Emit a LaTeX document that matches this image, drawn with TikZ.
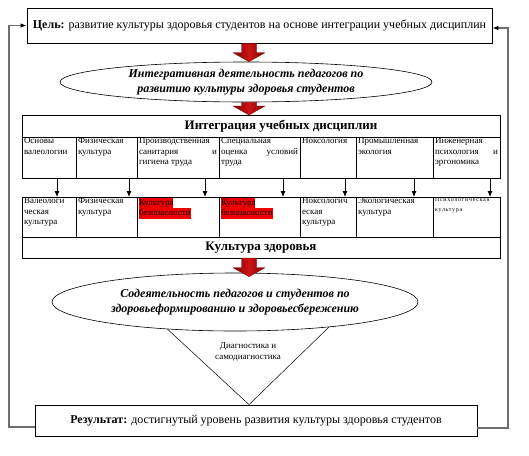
\documentclass[tikz,border=0pt]{standalone}
\usepackage{fontspec}
\setmainfont{Liberation Serif}
\usetikzlibrary{arrows.meta,shapes.geometric,calc}

\definecolor{arrowred}{RGB}{205,20,20}
\definecolor{arrowdark}{RGB}{125,0,0}
\definecolor{marker}{RGB}{240,0,0}
\definecolor{loopgray}{RGB}{110,110,110}

\newcommand{\hilite}[1]{{\setlength{\fboxsep}{0pt}\colorbox{marker}{\strut #1}}}
\newcommand{\cellbox}[3]{\parbox[c][#1][t]{#2}{\vspace*{1pt}#3}}
\newcommand{\redarrow}[2]{%
  \path[redblock] let \p1=(#1), \p2=(#2) in
    (\x1-7.5pt,\y1) -- (\x1+7.5pt,\y1) -- (\x1+7.5pt,\y2+9pt) -- (\x1+16pt,\y2+9pt)
    -- (\x1,\y2) -- (\x1-16pt,\y2+9pt) -- (\x1-7.5pt,\y2+9pt) -- cycle;}

\tikzset{
  goalbox/.style={draw, line width=0.8pt, inner sep=0pt, font=\fontsize{12}{14}\selectfont},
  oval/.style={draw, ellipse, fill=white, line width=0.6pt, inner sep=0pt},
  ovaltext/.style={align=center, inner sep=0pt, font=\fontsize{12}{15}\selectfont\bfseries\itshape},
  cell/.style={draw, line width=0.8pt, anchor=north west, outer sep=0pt, inner xsep=2pt, inner ysep=0pt, font=\fontsize{9}{10.3}\selectfont},
  rowband/.style={draw, line width=0.8pt, anchor=north west, outer sep=0pt, inner sep=0pt, minimum width=478pt, font=\fontsize{13}{15}\selectfont\bfseries},
  feedback/.style={draw=loopgray, line width=1.2pt, -{Latex[black,length=6pt,width=4.5pt]}},
  linkdown/.style={line width=0.8pt, -{Latex[length=6pt,width=5pt]}},
  redblock/.style={left color=arrowdark, right color=arrowdark, middle color=arrowred, draw=arrowdark, line width=0.3pt},
}

\begin{document}
\begin{tikzpicture}[x=1pt,y=-1pt]
\useasboundingbox (0,0) rectangle (529,455);
\coordinate (spine) at (249,0);
\coordinate (leftrail) at (9,25.5);
\coordinate (rightrail) at (508,28);

\node[goalbox, minimum width=465pt, minimum height=35pt] (goal) at (259.5,25.5) {\textbf{Цель:} развитие культуры здоровья студентов на основе интеграции учебных дисциплин};

\node[oval, minimum width=372pt, minimum height=40pt] (intent) at (246,82) {};
\node[ovaltext] (intenttext) at (intent.center) {Интегративная деятельность педагогов по\\развитию культуры здоровья студентов};

\node[rowband, minimum height=22pt] (integ) at (22,115) {\hspace*{40pt}Интеграция учебных дисциплин};
\node[cell] (a1) at (integ.south west) {\cellbox{41pt}{50pt}{Основы\\валеологии}};
\node[cell] (a2) at (a1.north east) {\cellbox{41pt}{57pt}{Физическая\\культура}};
\node[cell] (a3) at (a2.north east) {\cellbox{41pt}{78pt}{Производственная\\санитария\hfill и\\гигиена труда}};
\node[cell] (a4) at (a3.north east) {\cellbox{41pt}{77pt}{Специальная\\оценка\hfill условий\\труда}};
\node[cell] (a5) at (a4.north east) {\cellbox{41pt}{52pt}{Ноксология}};
\node[cell] (a6) at (a5.north east) {\cellbox{41pt}{73pt}{Промышленная\\экология}};
\node[cell] (a7) at (a6.north east) {\cellbox{41pt}{63pt}{Инженерная\\психология\hfill и\\эргономика}};

\node[cell] (b1) at (22,197) {\cellbox{40pt}{50pt}{Валеологи\\ческая\\культура}};
\node[cell] (b2) at (b1.north east) {\cellbox{40pt}{57pt}{Физическая\\культура}};
\node[cell] (b3) at (b2.north east) {\cellbox{40pt}{78pt}{\hilite{Культура}\\\hilite{безопасности}}};
\node[cell] (b4) at (b3.north east) {\cellbox{40pt}{77pt}{\hilite{Культура}\\\hilite{безопасности}}};
\node[cell] (b5) at (b4.north east) {\cellbox{40pt}{52pt}{Ноксологич\\еская\\культура}};
\node[cell] (b6) at (b5.north east) {\cellbox{40pt}{73pt}{Экологическая\\культура}};
\node[cell] (b7) at (b6.north east) {\cellbox{40pt}{63pt}{\fontsize{6}{10}\selectfont\addfontfeature{LetterSpace=12}Психологическая\\культура}};
\node[rowband, minimum height=21pt] (health) at (b1.south west) {Культура здоровья};

\foreach \i/\dx in {1/8,2/22.5,3/27,4/23.5,5/17,6/19.5,7/23.5}
  \draw[linkdown] ([xshift=\dx pt]a\i.south) -- ([xshift=\dx pt]b\i.north);

\node[oval, minimum width=366pt, minimum height=58pt] (joint) at (235,302) {};
\node[ovaltext] (jointtext) at (joint.center) {Содеятельность педагогов и студентов по\\здоровьеформированию и здоровьесбережению};
\coordinate (jointtop) at ([yshift=-4pt]joint.north);

\node[goalbox, minimum width=442pt, minimum height=31pt] (result) at (256,420.5) {\textbf{Результат:} достигнутый уровень развития культуры здоровья студентов};

\draw[line width=0.5pt] (joint.202) -- (result.north -| spine) -- (joint.345);
\node[font=\fontsize{9}{11}\selectfont, align=center] (diag) at (248,352) {Диагностика и\\самодиагностика};

\draw[feedback] ([yshift=-6.5pt]result.west) -| (leftrail) -- (goal.west);
\draw[feedback] ([yshift=-7.5pt]result.east) -| (rightrail) -- (rightrail -| goal.east);

\redarrow{goal.south -| spine}{intent.north -| spine}
\redarrow{intent.south -| spine}{integ.north -| spine}
\redarrow{health.south -| spine}{jointtop -| spine}
\end{tikzpicture}
\end{document}
